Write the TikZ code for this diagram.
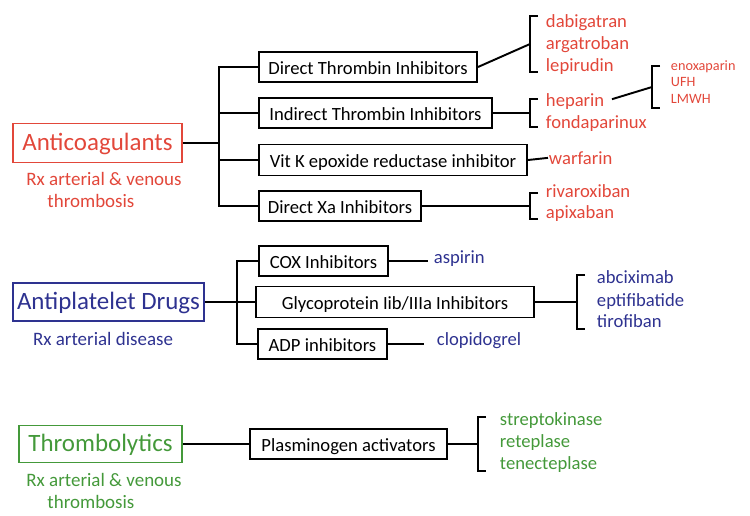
\documentclass[tikz,border=0pt]{standalone}
\usepackage{fontspec}
\setmainfont{Carlito}
\usetikzlibrary{positioning, calc}
\definecolor{acred}{HTML}{E2473A}
\definecolor{apblue}{HTML}{2E3290}
\definecolor{tlgreen}{HTML}{44993A}
\def\px{0.02cm}
% bracket: middle coordinate, half height
\newcommand\drugbrack[2]{\draw ($(#1)+(8,-#2)$) -| (#1) |- ($(#1)+(8,#2)$);}

\begin{document}
\begin{tikzpicture}[x=0.02cm, y=-0.02cm, line width=1.1pt,
  classbox/.style={draw, line width=1pt, inner xsep=0pt,
    minimum width=#1*\px, font=\fontsize{14.2}{17}\selectfont,
    text height=0.9em, text depth=0.05em},
  subbox/.style={draw, line width=1.1pt, inner xsep=0pt,
    minimum width=#1*\px, minimum height=30*\px,
    font=\fontsize{10.6}{12}\selectfont, text height=0.9em, text depth=0.05em},
  drug/.style={anchor=mid west, inner sep=0pt, font=\fontsize{10.6}{12}\selectfont},
  small/.style={anchor=mid west, inner sep=0pt, font=\fontsize{8.1}{9}\selectfont},
  note/.style={align=left, font=\fontsize{10.8}{12}\selectfont}]
  \useasboundingbox (0,0) rectangle (750,515);

  % Anticoagulants
  \node[classbox=169, minimum height=39*\px, draw=acred, text=acred] (ac) at (97.5,143) {Anticoagulants};
  \node[note, text=acred] (acnote) at (104,190) {Rx arterial \& venous\\\hspace*{12pt}thrombosis};
  \coordinate (acJ) at (219,143);
  \node[subbox=218] (dti) at (368,67) {Direct Thrombin Inhibitors};
  \node[subbox=233] (iti) at (375.5,113) {Indirect Thrombin Inhibitors};
  \node[subbox=268, minimum height=31*\px] (vitk) at (393,160) {Vit K epoxide reductase inhibitor};
  \node[subbox=162] (dxa) at (340,206) {Direct Xa Inhibitors};
  \draw (ac.east) -- (acJ);
  \draw (dti.west) -| (acJ) |- (dxa.west);
  \draw (iti.west) -| (acJ);
  \draw (vitk.west) -| (acJ);

  \foreach \n/\t/\y in {dab/dabigatran/23, arg/argatroban/45, lep/lepirudin/67,
      hep/heparin/102, fon/fondaparinux/124, riv/rivaroxiban/193, api/apixaban/214}
    \node[drug, text=acred] (\n) at (545,\y) {\t};
  \node[drug, text=acred] (war) at (548,160) {warfarin};
  \foreach \n/\t/\y in {eno/enoxaparin/66, ufh/UFH/82, lmwh/LMWH/99}
    \node[small, text=acred] (\n) at (670,\y) {\t};
  \coordinate (dtiBr) at (530,44);
  \coordinate (itiBr) at (530,113);
  \coordinate (dxaBr) at (530,206);
  \coordinate (hepBr) at (652,87);
  \draw (dti.east) -- (dtiBr);
  \drugbrack{dtiBr}{28}
  \draw (iti.east) -- (itiBr);
  \drugbrack{itiBr}{14}
  \draw[shorten <=4pt] (hep.east) -- (hepBr);
  \drugbrack{hepBr}{21}
  \draw (vitk.east) -- (war.west);
  \draw (dxa.east) -- (dxaBr);
  \drugbrack{dxaBr}{13}

  % Antiplatelet Drugs
  \node[classbox=191, minimum height=38*\px, draw=apblue, text=apblue] (ap) at (108.5,302) {Antiplatelet Drugs};
  \node[note, text=apblue] (apnote) at (103,339) {Rx arterial disease};
  \coordinate (apJ) at (237,302);
  \node[subbox=129] (cox) at (323.5,261) {COX Inhibitors};
  \node[subbox=278, minimum height=31*\px] (gp) at (395,302) {Glycoprotein Iib/IIIa Inhibitors};
  \node[subbox=129] (adp) at (322.5,344) {ADP inhibitors};
  \draw (ap.east) -- (gp.west);
  \draw (cox.west) -| (apJ) |- (adp.west);

  \node[drug, text=apblue] (asp) at (433,259) {aspirin};
  \node[drug, text=apblue] (clo) at (436,341) {clopidogrel};
  \foreach \n/\t/\y in {abc/abciximab/279, ept/eptifibatide/302, tir/tirofiban/323}
    \node[drug, text=apblue] (\n) at (596,\y) {\t};
  \coordinate (gpBr) at (577,302);
  \draw[shorten >=2.8pt] (cox.east) -- (asp.west |- cox.east);
  \draw[shorten >=6.8pt] (adp.east) -- (clo.west |- adp.east);
  \draw (gp.east) -- (gpBr);
  \drugbrack{gpBr}{27}

  % Thrombolytics
  \node[classbox=163, minimum height=37*\px, draw=tlgreen, text=tlgreen] (tl) at (100.5,444) {Thrombolytics};
  \node[note, text=tlgreen] (tlnote) at (104,491) {Rx arterial \& venous\\\hspace*{12pt}thrombosis};
  \node[subbox=197] (pa) at (348.5,444) {Plasminogen activators};
  \draw (tl.east) -- (pa.west);
  \foreach \n/\t/\y in {str/streptokinase/421, ret/reteplase/443, ten/tenecteplase/465}
    \node[drug, text=tlgreen] (\n) at (499,\y) {\t};
  \coordinate (paBr) at (478,444);
  \draw (pa.east) -- (paBr);
  \drugbrack{paBr}{27}
\end{tikzpicture}
\end{document}
